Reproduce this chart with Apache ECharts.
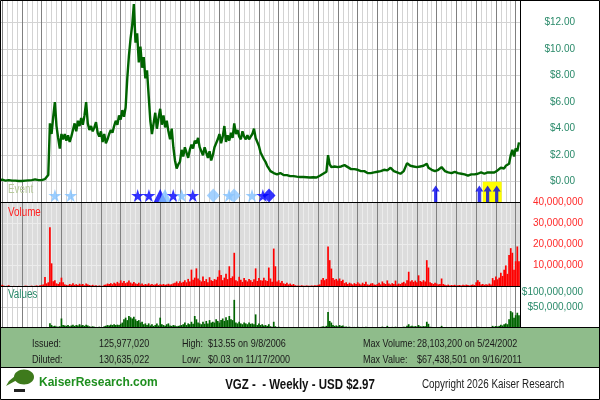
<!DOCTYPE html>
<html><head><meta charset="utf-8">
<script src="https://cdn.jsdelivr.net/npm/echarts@6/dist/echarts.min.js"></script>
<style>html,body{margin:0;padding:0;background:#fff}#c{width:600px;height:400px}</style>
</head><body><div id="c"></div>
<script>
// ---- data (monthly samples starting Nov 1999) ----
const startYear = 1999 + 10 / 12;
const price = [
0.12,0.1,0.15,0.1,0.08,0.1,0.12,0.1,0.08,0.1,
0.08,0.06,0.05,0.03,0.05,0.06,0.08,0.1,0.1,0.12,
0.12,0.15,0.18,0.15,0.12,0.1,0.12,0.15,0.2,0.3,
0.5,4.4,3.6,4.9,6.0,4.2,3.3,2.5,3.6,3.2,
3.6,3.1,3.5,3.0,3.4,3.9,4.4,3.8,4.6,4.2,
4.8,4.3,5.0,6.0,4.4,3.9,4.2,3.8,4.1,4.5,
3.7,3.4,3.8,3.0,3.6,2.9,3.2,3.6,3.9,3.7,
4.2,4.6,4.3,5.0,4.7,5.4,4.9,5.6,7.8,9.5,
10.8,11.8,13.4,10.5,11.2,9.0,10.2,8.6,9.4,7.8,
8.4,6.5,4.6,3.6,4.4,5.2,4.0,4.8,5.5,4.3,
5.0,4.1,4.6,3.8,3.2,4.0,2.6,1.6,1.0,1.3,
1.5,2.4,1.9,2.6,2.2,1.8,2.4,2.8,2.5,3.1,
2.9,3.3,2.6,2.3,2.0,2.6,2.2,1.8,2.3,1.6,
2.0,2.6,2.9,3.2,3.6,2.9,3.4,4.2,3.0,3.5,
3.1,3.7,3.3,4.4,3.6,3.9,3.4,3.2,3.8,3.4,
3.2,3.5,3.2,3.4,3.6,4.0,3.3,3.0,2.7,2.2,
2.1,1.7,1.5,1.2,1.0,0.8,0.7,0.65,0.6,0.55,
0.7,0.65,0.55,0.5,0.55,0.5,0.45,0.42,0.4,0.42,
0.4,0.38,0.38,0.35,0.36,0.35,0.33,0.34,0.33,0.32,
0.33,0.34,0.3,0.32,0.4,0.45,0.55,0.6,0.7,0.75,
2.0,1.3,1.1,1.0,1.15,1.05,1.1,1.0,1.15,1.2,
1.25,1.15,1.1,1.0,0.95,0.9,0.95,0.85,0.9,0.85,
0.8,0.75,0.8,0.7,0.65,0.7,0.65,0.6,0.7,0.6,
0.75,0.85,0.8,0.95,0.9,0.8,0.85,0.95,1.05,0.9,
0.8,0.75,0.7,0.65,0.6,0.7,0.8,0.9,1.4,1.3,
1.2,1.25,1.15,1.2,1.1,1.2,1.15,1.1,1.2,1.15,
1.35,1.05,0.95,0.9,0.85,0.8,0.75,0.9,1.05,1.1,
0.95,0.8,0.75,0.7,0.7,0.65,0.7,0.75,0.7,0.65,
0.6,0.6,0.55,0.55,0.5,0.45,0.5,0.55,0.5,0.55,
0.6,0.6,0.65,0.7,0.65,0.6,0.65,0.7,0.65,0.7,
0.75,0.7,0.75,0.85,0.95,1.05,1.1,1.0,1.2,1.3,
1.35,2.0,2.4,1.9,2.5,2.3,2.97
];
const volumeM = [
0.3,0.5,0.8,0.4,0.2,0.3,0.6,0.2,0.1,0.3,
0.2,0.1,0.3,0.2,0.1,0.2,0.4,0.3,0.2,0.3,
0.4,0.2,0.3,0.5,0.3,0.6,0.8,1.0,4.5,1.5,
2.0,28.1,11.0,2.5,3.0,1.5,1.2,2.0,4.2,2.0,
1.0,0.8,0.6,1.2,0.9,1.5,0.8,1.1,0.7,1.3,
0.9,1.2,0.6,1.4,1.0,0.7,0.5,0.8,0.4,0.6,
0.3,0.5,0.4,0.3,0.8,1.0,1.4,1.2,1.6,1.1,
1.8,1.4,2.2,1.5,2.9,1.8,2.6,1.6,2.0,2.8,
1.9,1.4,2.1,1.5,1.2,1.8,1.0,1.4,0.8,1.2,
1.0,1.5,0.9,1.2,0.8,1.0,1.4,0.7,1.1,0.9,
1.2,0.8,1.0,1.3,0.9,1.1,1.5,1.8,2.4,1.6,
2.5,1.8,2.2,3.0,2.0,3.6,2.4,8.0,3.2,4.2,
8.6,3.8,3.0,2.4,4.8,2.6,3.5,2.0,4.4,3.0,
2.6,3.5,3.2,4.6,7.7,5.5,3.0,4.2,6.0,3.5,
9.6,4.0,4.8,16.0,3.0,2.5,4.6,3.2,2.2,4.0,
3.0,2.4,3.6,3.0,2.2,3.4,8.6,2.6,4.0,3.0,
2.8,4.2,3.0,2.6,9.0,3.8,2.2,18.0,9.6,2.4,
3.0,1.8,2.6,1.5,1.2,1.8,1.0,1.4,0.8,1.2,
0.6,0.4,0.5,0.3,0.6,0.4,0.3,0.5,0.4,0.3,
0.5,0.4,0.6,0.5,0.8,1.0,3.2,4.0,3.0,3.6,
19.0,12.5,8.5,4.0,3.2,3.6,2.8,3.8,2.6,3.2,
1.6,2.0,1.2,1.8,1.4,1.0,1.6,1.2,2.0,1.4,
1.0,1.8,1.2,2.2,1.0,0.8,1.4,1.6,1.0,0.8,
1.2,1.8,1.0,2.4,1.5,1.2,2.9,1.4,1.0,1.6,
1.2,2.8,1.0,1.4,1.2,1.8,2.2,1.5,3.0,7.0,
2.4,3.0,2.2,2.8,2.0,5.3,2.6,2.2,3.0,2.4,
12.5,9.0,2.0,1.6,1.2,1.8,1.4,1.0,1.2,3.8,
1.2,0.8,0.6,0.9,0.5,0.7,0.6,0.8,0.5,0.6,
0.7,0.5,0.8,0.6,0.9,0.7,0.5,0.8,1.0,0.7,
2.0,3.0,2.2,1.0,1.2,0.8,1.1,0.9,1.4,1.0,
4.0,3.0,4.8,3.4,4.2,6.5,5.0,8.0,10.0,6.0,
15.0,18.2,16.0,8.0,12.0,19.0,12.0
];
const valueM = [
0.04,0.05,0.1,0.04,0.02,0.03,0.07,0.02,0.01,0.03,
0.02,0.01,0.02,0.01,0.01,0.01,0.03,0.03,0.02,0.04,
0.05,0.03,0.05,0.08,0.04,0.06,0.1,0.15,0.9,0.45,
0.5,10.6,6,3,4,2.5,2,3,22,6,
5,4,6,3,5,7,4,6,5,8,
5,6,4,7,5,3,2,3,2,1.5,
1,2,1.5,1,3,4,6,5,7,6,
8,6,7,6,9,12,20,24,18,28,
25,22,26,20,16,18,12,14,8,10,
6,10,5,8,4,6,10,5,24,8,
6,4,8,10,5,4,6,5,3,4,
5,6,8,12,6,10,8,14,9,28,
20,12,10,8,14,9,16,10,18,12,
14,12,20,16,12,18,22,16,25,18,
28,20,18,67.4,12,10,14,10,8,12,
10,8,12,9,10,8,32,6,10,6,
8,5,6,4,8,3,2,14,3,1.5,
2,1,1.5,0.8,0.6,1,0.5,0.8,0.4,0.5,
0.3,0.2,0.3,0.2,0.3,0.2,0.2,0.2,0.2,0.1,
0.2,0.2,0.3,0.2,0.3,0.5,2,3,2,4,
38,16,12,6,4,5,3,6,4,5,
2,2.4,1.5,2,1.4,1,1.5,1,1.8,1.2,
1,1.4,0.9,1.6,0.7,0.6,1,1,0.6,0.5,
1,1.5,0.8,2.2,1.4,1,4,1.2,1,1.5,
1,2,0.8,1,1,1.5,2,1.5,4,8,
3,4,2.6,3.4,2.4,6,3,2.6,3.4,2.8,
14,9,2,1.4,1,1.5,1.2,1,1.2,4,
1,0.6,0.4,0.6,0.3,0.5,0.4,0.6,0.3,0.4,
0.4,0.3,0.4,0.3,0.5,0.3,0.25,0.4,0.5,0.4,
1.2,1.8,1.4,0.6,0.8,0.5,0.7,0.6,0.9,0.7,
4,2.2,3.6,2.6,4,7,5,8,10,8,
20,40,37,24,30,36,30
];
const eventDates = [2002.67,2003.47,2006.86,2007.43,2008.0,2008.24,2008.66,2009.09,2009.65,2010.69,2011.48,2011.74,2012.65,2013.2,2013.51,2021.95,2024.16,2024.58,2025.04];
const eventKinds = ['starL','starL','starD','starD','triD','triL','starD','starL','starD','diaL','starL','diaL','starL','starD','diaD','arrow','arrow','arrow','arrow'];
const highlightRange = [2024.33, 2025.29];
const priceTicks = {min: 0, max: 14, step: 2};
const volumeTicks = {min: 0, max: 40, step: 10};
const valueTicks = {min: 0, max: 100, step: 50};
const footerRows = [
  ['Issued:', '125,977,020', 'High:', '$13.55 on 9/8/2006', 'Max Volume:', '28,103,200 on 5/24/2002'],
  ['Diluted:', '130,635,022', 'Low:', '$0.03 on 11/17/2000', 'Max Value:', '$67,438,501 on 9/16/2011']
];

// ---- chart ----
const SANS = "'Liberation Sans',Arial,sans-serif";
const X_MIN = 1999.75, X_MAX = 2026.25;
const GL = -2.74, GR = 79.4;
const LIGHT = '#d3d3d3', DARK = '#808080';
const fmtInt = v => Math.round(v).toString().replace(/\B(?=(\d{3})+(?!\d))/g, ',');

function xAx(gi, minor) {
  return {type: 'value', gridIndex: gi, min: X_MIN, max: X_MAX, interval: 0.25,
    axisLine: {show: false}, axisTick: {show: false}, axisLabel: {show: false},
    splitLine: {show: true, lineStyle: {color: [minor, DARK, minor, minor], width: 1}}};
}
const gridBase = {left: GL, right: GR, containLabel: false, outerBoundsMode: 'none', borderWidth: 0};

const STAR = 'path://M50,0 L61,35 L98,35 L68,57 L79,91 L50,70 L21,91 L32,57 L2,35 L39,35 Z';
const ARROW = 'path://M5,0 L10,7 L7,7 L7,20 L3,20 L3,7 L0,7 Z';
const kindStyle = {
  starL: {symbol: STAR, size: 13, color: '#80c0ff'},
  starD: {symbol: STAR, size: 13, color: '#0000ff'},
  triD: {symbol: 'triangle', size: 13, color: '#0000ff'},
  triL: {symbol: 'triangle', size: 13, color: '#80c0ff'},
  diaL: {symbol: 'diamond', size: [13, 14], color: '#8cc6ff'},
  diaD: {symbol: 'diamond', size: [13, 14], color: '#0000ff'},
  arrow: {symbol: ARROW, size: [8, 17], color: '#0000ee'}
};
const eventData = eventDates.map((d, i) => {
  const k = kindStyle[eventKinds[i]];
  return {value: [d, eventKinds[i] === 'arrow' ? 0.4 : 0.33], symbol: k.symbol, symbolSize: k.size, itemStyle: {color: k.color}};
});

const labelRight = (margin, color, fmt) => ({
  show: true, margin: margin, align: 'right', color: color, fontSize: 10, fontFamily: SANS, formatter: fmt
});

const option = {
  animation: false,
  backgroundColor: '#ffffff',
  grid: [
    Object.assign({top: -3.8, height: 185.5}, gridBase),
    Object.assign({top: 181.7, height: 20.5}, gridBase),
    Object.assign({top: 202.2, height: 84.3, show: true, backgroundColor: '#dcdcdc'}, gridBase),
    Object.assign({top: 286.5, height: 41}, gridBase)
  ],
  xAxis: [xAx(0, LIGHT), xAx(1, LIGHT), xAx(2, '#ececec'), xAx(3, LIGHT)],
  yAxis: [
    {type: 'value', gridIndex: 0, position: 'right', min: priceTicks.min, max: priceTicks.max, interval: priceTicks.step,
      axisLine: {show: false}, axisTick: {show: false},
      axisLabel: labelRight(54.4, '#2a8a6a', v => '$' + v.toFixed(2)),
      splitLine: {show: true, lineStyle: {color: LIGHT}}},
    {type: 'value', gridIndex: 1, min: 0, max: 1, show: false},
    {type: 'value', gridIndex: 2, position: 'right', min: volumeTicks.min, max: volumeTicks.max, interval: volumeTicks.step,
      axisLine: {show: false}, axisTick: {show: false},
      axisLabel: Object.assign(labelRight(62.4, '#ff2a2a', v => fmtInt(v * 1e6)), {showMinLabel: false}),
      splitLine: {show: true, lineStyle: {color: '#ececec'}}},
    {type: 'value', gridIndex: 3, position: 'right', min: valueTicks.min, max: valueTicks.max, interval: valueTicks.step,
      axisLine: {show: false}, axisTick: {show: false},
      axisLabel: Object.assign(labelRight(62.4, '#2a8a6a',
        v => v === valueTicks.max ? '{top|$' + fmtInt(v * 1e6) + '}' : '$' + fmtInt(v * 1e6)),
        {showMinLabel: false, rich: {top: {padding: [11, 0, 0, 0], fontSize: 10, fontFamily: SANS, color: '#2a8a6a'}}}),
      splitLine: {show: true, lineStyle: {color: LIGHT}}}
  ],
  series: [
    {type: 'line', xAxisIndex: 0, yAxisIndex: 0, showSymbol: false, silent: true,
      lineStyle: {color: '#006400', width: 2.4}, data: price.map((p, i) => [startYear + i / 12, p])},
    {type: 'scatter', xAxisIndex: 1, yAxisIndex: 1, silent: true, data: eventData,
      markArea: {silent: true, itemStyle: {color: '#ffff00'}, data: [[{xAxis: highlightRange[0]}, {xAxis: highlightRange[1]}]]}},
    {type: 'bar', xAxisIndex: 2, yAxisIndex: 2, silent: true, barWidth: 1.7,
      itemStyle: {color: '#ff0000'}, data: volumeM.map((v, i) => [startYear + i / 12, v])},
    {type: 'bar', xAxisIndex: 3, yAxisIndex: 3, silent: true, barWidth: 1.7,
      itemStyle: {color: '#006400'}, data: valueM.map((v, i) => [startYear + i / 12, v])}
  ],
  graphic: (function () {
    const g = [];
    const txt = (x, y, text, fill, font, align, sx) => ({type: 'text', x: x, y: y, scaleX: sx || 0.82, silent: true, z: 100,
      style: {text: text, fill: fill, font: font, textAlign: align || 'left', textVerticalAlign: 'middle'}});
    const line = (x1, y1, x2, y2) => ({type: 'line', silent: true, z: 90,
      shape: {x1: x1, y1: y1, x2: x2, y2: y2}, style: {stroke: '#000', lineWidth: 1}});
    // panel titles
    g.push(txt(8, 190, 'Event', '#b7c99c', '12px ' + SANS));
    g.push(txt(8, 213, 'Volume', '#ff2020', '12px ' + SANS));
    g.push(txt(8, 295, 'Values', '#2a8a6a', '12px ' + SANS));
    // frame lines
    g.push(line(520.5, 0, 520.5, 327.5));
    g.push(line(0, 202.5, 520.5, 202.5));
    g.push(line(0, 286.5, 520.5, 286.5));
    // footer info box
    g.push({type: 'rect', silent: true, z: 80, shape: {x: 0.5, y: 327.5, width: 599, height: 40},
      style: {fill: '#8fbc8b', stroke: '#000', lineWidth: 1}});
    const cols = [32, 99, 182, 208, 363, 417];
    footerRows.forEach((row, r) => {
      const y = 344 + r * 16;
      row.forEach((t, c) => {
        g.push(txt(cols[c], y, t, '#1a1a1a', '11px ' + SANS));
      });
    });
    // bottom bar
    g.push({type: 'rect', silent: true, z: 80, shape: {x: 0.5, y: 0.5, width: 599, height: 399},
      style: {fill: 'none', stroke: '#000', lineWidth: 1}});
    g.push({type: 'ellipse', silent: true, z: 95, shape: {cx: 24, cy: 377, rx: 10, ry: 7.5},
      style: {fill: '#3e7a1c'}});
    g.push({type: 'polygon', silent: true, z: 95, shape: {points: [[17, 380], [6, 386], [9, 381], [15, 376]]},
      style: {fill: '#3e7a1c'}});
    g.push({type: 'rect', silent: true, z: 95, shape: {x: 14, y: 389, width: 11, height: 3},
      style: {fill: '#222'}});
    g.push(txt(39, 383, 'KaiserResearch.com', '#1f8f1f', 'bold 12px ' + SANS, 'left', 1));
    g.push(txt(300, 385, 'VGZ -  - Weekly - USD $2.97', '#111', 'bold 14px ' + SANS, 'center'));
    g.push(txt(422, 385, 'Copyright 2026 Kaiser Research', '#222', '12px ' + SANS));
    return g;
  })()
};

const chart = echarts.init(document.getElementById('c'), null, {renderer: 'canvas'});
chart.setOption(option);
</script>
</body></html>
